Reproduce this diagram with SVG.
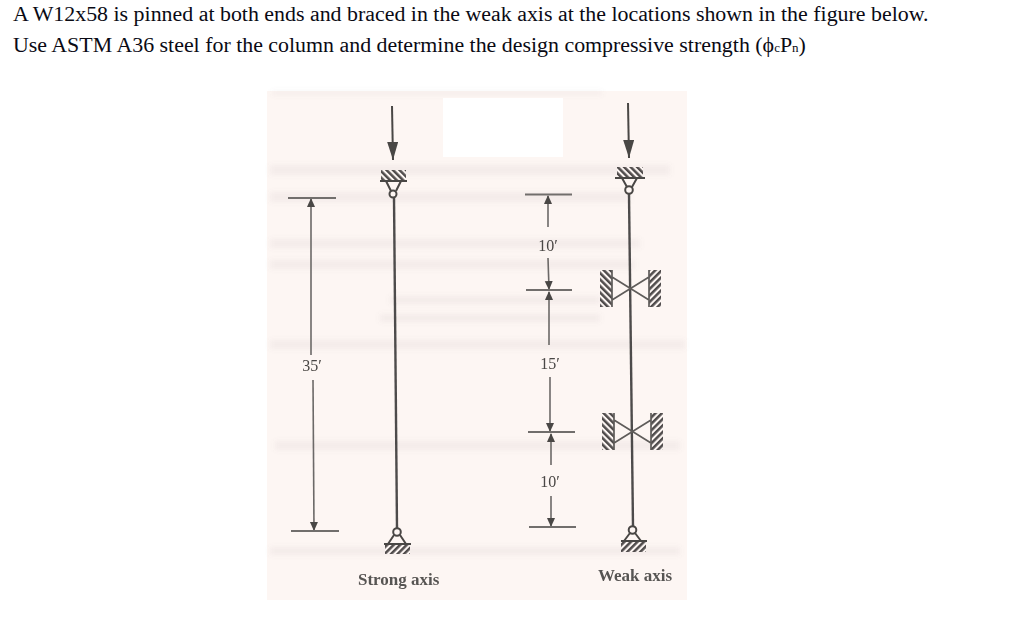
<svg xmlns="http://www.w3.org/2000/svg" width="1024" height="624" viewBox="0 0 1024 624">
<style>
.head{font-family:"Liberation Serif","Times New Roman",serif;font-size:21.9px;fill:#0a0a14}
.sub{font-size:13px}
.lab{font-family:"Liberation Serif","Times New Roman",serif;fill:#4a4745}
.dimt{font-size:16px;text-anchor:middle}
.ax{font-size:17px;font-weight:bold;fill:#575452}
.col{stroke:#4e4c4b;stroke-width:2.4;fill:none}
.ln{stroke:#6c6967;stroke-width:1.6;fill:none}
.tick{stroke:#716e6c;stroke-width:1.8;fill:none}
.brace{stroke:#5f5c5a;stroke-width:1.7;fill:none}
.pin{stroke:#4a4745;stroke-width:2;fill:none}
.pinc{stroke:#4a4745;stroke-width:2;fill:#fdf6f3}
.base{stroke:#4a4745;stroke-width:2;fill:none}
.hb{fill:url(#hb);stroke:none}
.hf{fill:url(#hf);stroke:none}
.ghost{fill:#8a8290;opacity:.08}
</style>
<defs>
<pattern id="hf" width="4.600" height="6" patternUnits="userSpaceOnUse" patternTransform="rotate(45)">
<rect width="4.600" height="6" fill="#fdf6f3"/><rect width="2.500" height="6" fill="#504c4c"/>
</pattern>
<pattern id="hb" width="4.600" height="6" patternUnits="userSpaceOnUse" patternTransform="rotate(-45)">
<rect width="4.600" height="6" fill="#fdf6f3"/><rect width="2.500" height="6" fill="#504c4c"/>
</pattern>
<marker id="a" markerWidth="9" markerHeight="12" refX="8" refY="4" orient="auto" markerUnits="userSpaceOnUse"><path d="M0 0L9 4L0 8Z" fill="#4a4745"/></marker>
<marker id="big" markerWidth="19" markerHeight="12" refX="18" refY="5.500" orient="auto" markerUnits="userSpaceOnUse"><path d="M0 0L18 5.500L0 11Z" fill="#4a4745"/></marker>
<filter id="soft" x="-5%" y="-5%" width="110%" height="110%"><feGaussianBlur stdDeviation="0.55"/></filter>
<filter id="sm" x="-5%" y="-50%" width="110%" height="200%"><feGaussianBlur stdDeviation="2.500"/></filter>
</defs>
<rect width="1024" height="624" fill="#fff"/>
<g id="statement">
<text class="head" x="13" y="21">A W12x58 is pinned at both ends and braced in the weak axis at the locations shown in the figure below.</text>
<text class="head" x="13" y="52">Use ASTM A36 steel for the column and determine the design compressive strength (ϕ<tspan class="sub">c</tspan>P<tspan class="sub">n</tspan>)</text>
</g>
<g id="figure-background">
<rect x="267" y="91" width="420" height="509" fill="#fdf6f3"/>
<g filter="url(#sm)">
<rect class="ghost" x="272" y="91" width="330" height="4"/>
<rect class="ghost" x="270" y="165" width="400" height="10"/>
<rect class="ghost" x="270" y="192" width="360" height="10"/>
<rect class="ghost" x="270" y="239" width="370" height="9"/>
<rect class="ghost" x="270" y="260" width="365" height="9"/>
<rect class="ghost" x="390" y="296" width="210" height="8"/>
<rect class="ghost" x="380" y="314" width="220" height="8"/>
<rect class="ghost" x="270" y="340" width="415" height="9"/>
<rect class="ghost" x="275" y="441" width="405" height="9"/>
<rect class="ghost" x="270" y="547" width="410" height="8"/>
</g>
<rect x="443" y="98" width="120" height="59" fill="#fff"/>
</g>
<g filter="url(#soft)">
<g id="connectors">
<path class="ln" d="M392 106L393 160" style="stroke:#4a4745;stroke-width:2" marker-end="url(#big)"/>
<path class="ln" d="M628 103L629 158" style="stroke:#4a4745;stroke-width:2" marker-end="url(#big)"/>
<path class="ln" d="M311 355L311 199" marker-end="url(#a)"/>
<path class="ln" d="M313 380L314 530" marker-end="url(#a)"/>
<path class="ln" d="M548 227L548 196" marker-end="url(#a)"/>
<path class="ln" d="M548 258L549 289" marker-end="url(#a)"/>
<path class="ln" d="M549 345L549 292" marker-end="url(#a)"/>
<path class="ln" d="M550 377L550 431" marker-end="url(#a)"/>
<path class="ln" d="M551 465L551 434" marker-end="url(#a)"/>
<path class="ln" d="M551 496L551 526" marker-end="url(#a)"/>
</g>
<g id="dim-ticks">
<path class="tick" d="M288 198H336"/>
<path class="tick" d="M291 531H339"/>
<path class="tick" d="M525 194.500H572"/>
<path class="tick" d="M526 290H572"/>
<path class="tick" d="M528 432H575"/>
<path class="tick" d="M529 527H576"/>
</g>
<g id="strong-column">
<path class="col" d="M394 197L397 529"/>
<rect class="hb" x="381" y="170" width="25" height="11"/>
<path class="base" d="M380 181H407"/>
<path class="pin" d="M386 181L391 191M401 181L396 191"/>
<circle class="pinc" cx="393" cy="194" r="3.500"/>
<circle class="pinc" cx="397" cy="532" r="3.800"/>
<path class="pin" d="M394 535L388 544M400 535L406 544"/>
<path class="base" d="M384 544H411"/>
<rect class="hf" x="385" y="545" width="25" height="9"/>
</g>
<g id="weak-column">
<path class="col" d="M629 194L633 527"/>
<rect class="hb" x="617" y="167" width="26" height="11"/>
<path class="base" d="M615 178H645"/>
<path class="pin" d="M622 178L627 187M637 178L632 187"/>
<circle class="pinc" cx="629" cy="190" r="3.800"/>
<circle class="pinc" cx="632.500" cy="530" r="3.800"/>
<path class="pin" d="M630 533L624 541M635 533L641 541"/>
<path class="base" d="M621 541H647"/>
<rect class="hf" x="621" y="542" width="25" height="10"/>
</g>
<g id="brace-upper">
<rect class="hb" x="600" y="270" width="12" height="37"/>
<rect class="hf" x="649" y="270" width="12" height="37"/>
<path class="brace" d="M612 270V307M649 270V307M612 277L649 300M612 300L649 277"/>
</g>
<g id="brace-lower">
<rect class="hb" x="602" y="413" width="12" height="37"/>
<rect class="hf" x="651" y="413" width="12" height="37"/>
<path class="brace" d="M614 413V450M651 413V450M614 420L651 443M614 443L651 420"/>
</g>
<g id="labels">
<text class="lab dimt" x="312" y="371">35′</text>
<text class="lab dimt" x="548" y="251">10′</text>
<text class="lab dimt" x="550" y="369">15′</text>
<text class="lab dimt" x="550" y="487">10′</text>
<text class="lab ax" x="358" y="585">Strong axis</text>
<text class="lab ax" x="598" y="581">Weak axis</text>
</g>
</g>
</svg>
